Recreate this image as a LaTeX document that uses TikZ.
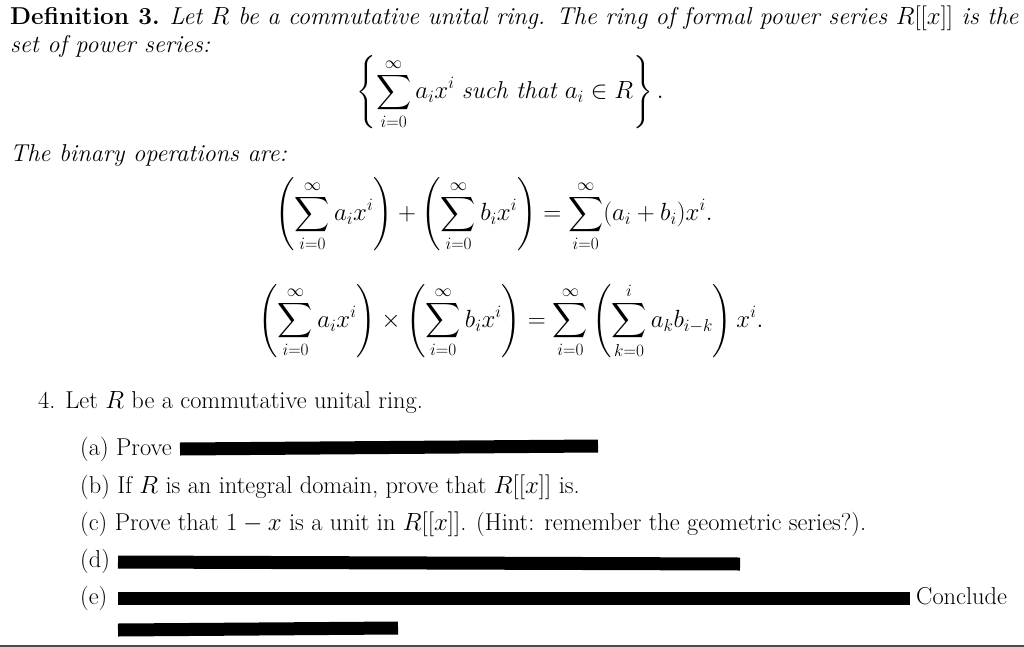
\documentclass[tikz,border=0pt]{standalone}
\usepackage{amsmath,amssymb}
\begin{document}
\begin{tikzpicture}[x=1pt,y=-1pt,every node/.style={inner sep=0pt,font=\fontsize{24.4}{29}\selectfont},
  lt/.style={anchor=base west},bar/.style={line width=13pt}]
\useasboundingbox[fill=white] (0,0) rectangle (1024,647);
\node[lt] (l1) at (10,25) {\textbf{Definition 3.} \textit{Let $R$ be a commutative unital ring. The ring of formal power series $R[[x]]$ is the}};
\node[lt] (l2) at (10,53) {\textit{set of power series:}};
\node (s) at (510,93) {$\displaystyle\left\{\sum_{i=0}^{\infty}a_ix^i \text{ \textit{such that} } a_i\in R\right\}.$};
\node[lt] (l3) at (10,162) {\textit{The binary operations are:}};
\node (e1) at (494,215) {$\displaystyle\left(\sum_{i=0}^{\infty}a_ix^i\right)+\left(\sum_{i=0}^{\infty}b_ix^i\right)=\sum_{i=0}^{\infty}(a_i+b_i)x^i.$};
\node (e2) at (511,321) {$\displaystyle\left(\sum_{i=0}^{\infty}a_ix^i\right)\times\left(\sum_{i=0}^{\infty}b_ix^i\right)=\sum_{i=0}^{\infty}\left(\sum_{k=0}^{i}a_kb_{i-k}\right)x^i.$};
\node[lt] (p4) at (38,408) {4. Let $R$ be a commutative unital ring.};
\node[lt] (pa) at (80,455) {(a) Prove};
\node[lt] (pb) at (80,493) {(b) If $R$ is an integral domain, prove that $R[[x]]$ is.};
\node[lt] (pc) at (80,530) {(c) Prove that $1-x$ is a unit in $R[[x]]$. (Hint: remember the geometric series?).};
\node[lt] (pd) at (80,567) {(d)};
\node[lt] (pe) at (80,604) {(e)};
\node[lt] (pf) at (916,604) {Conclude};
\draw[bar] (180,449) -- (598,446);
\draw[bar] (118,562) -- (740,564);
\draw[bar] (118,598) -- (910,598);
\draw[bar] (118,630) -- (398,628);
\draw[line width=2pt,black!70] (0,646) -- (1024,646);
\end{tikzpicture}
\end{document}
